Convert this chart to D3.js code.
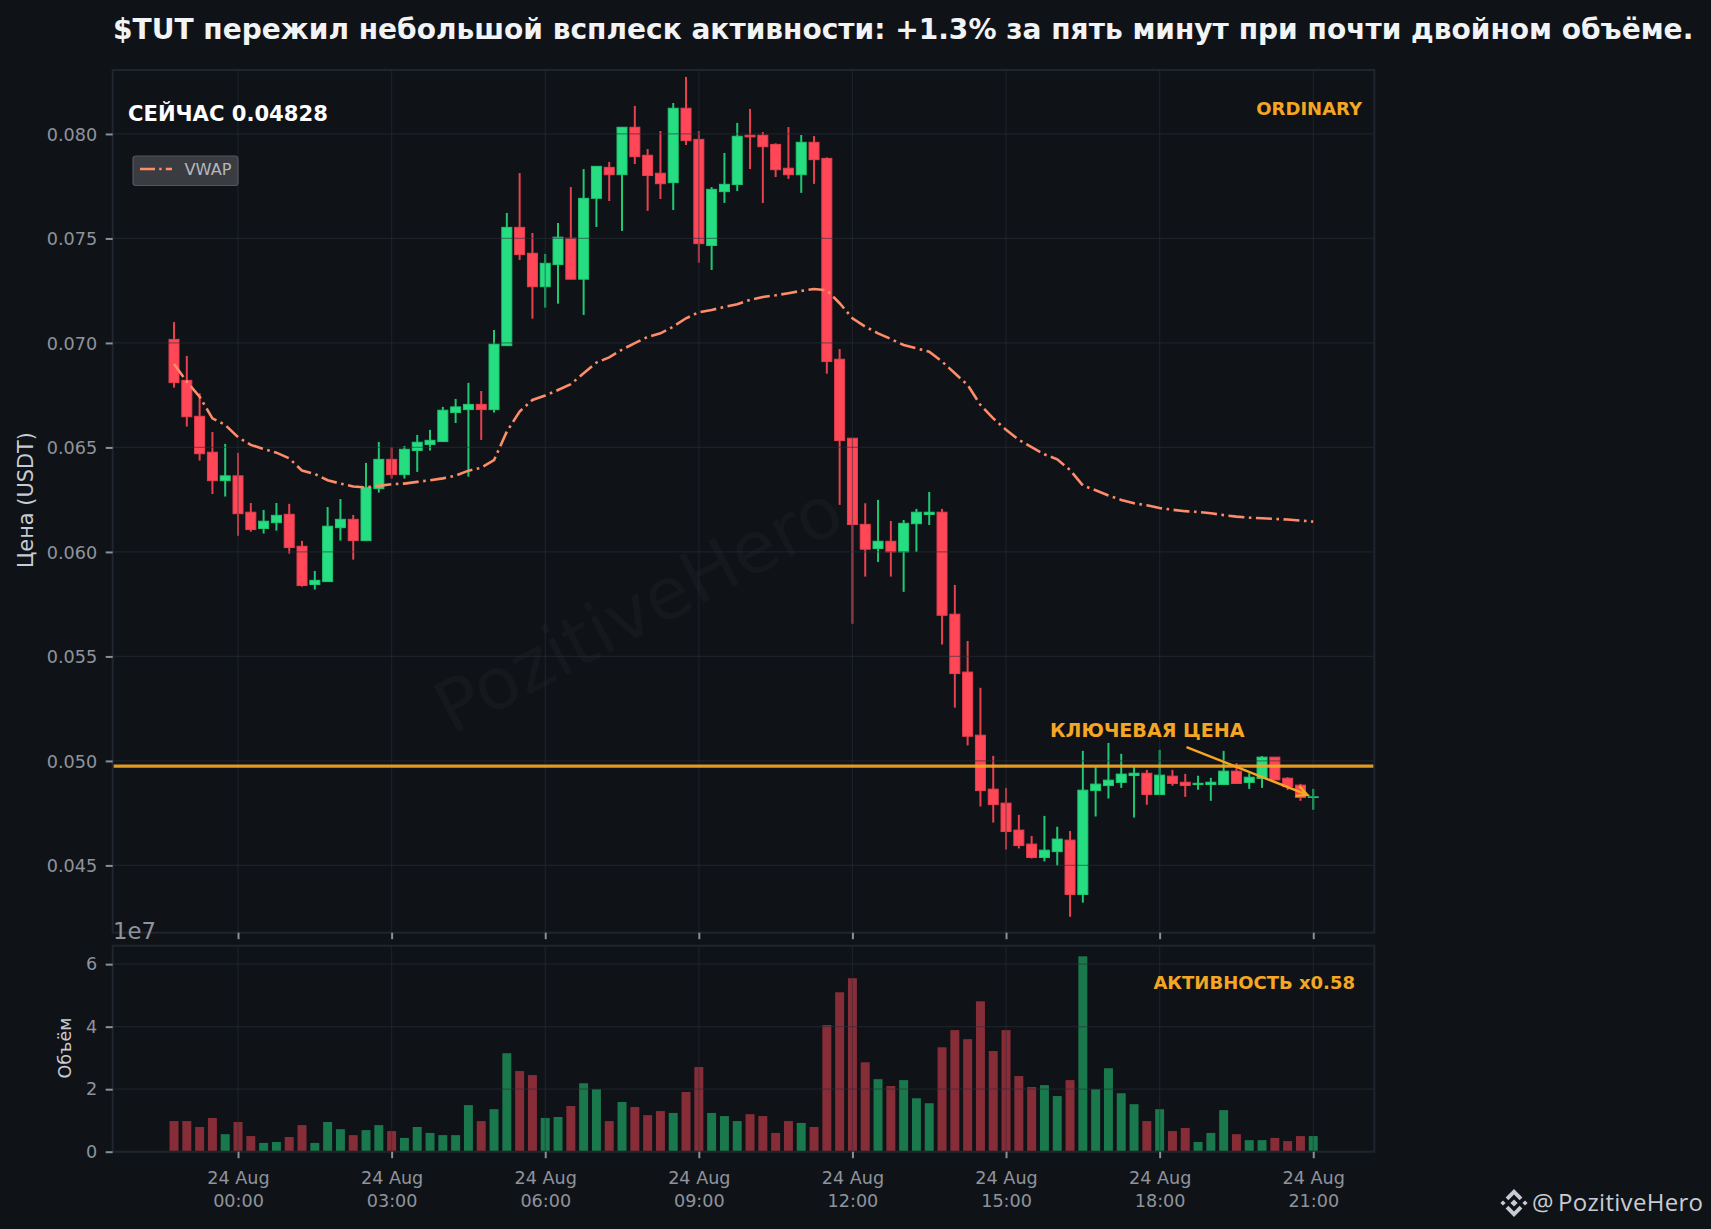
<!DOCTYPE html>
<html lang="ru">
<head>
  <meta charset="UTF-8">
  <title>$TUT</title>
  <script src="https://d3js.org/d3.v7.min.js"></script>
  <style>
    html, body { margin: 0; padding: 0; background: #0f1318; }
    svg { display: block; font-family: "DejaVu Sans", sans-serif; }
    .axis text { fill: #8f939c; font-size: 17.6px; }
    .axis line { stroke: #8a8f98; stroke-width: 2; }
    .grid line { stroke: #2a2e39; stroke-opacity: 0.5; stroke-width: 1.2; }
    .frame { fill: none; stroke: #1f252e; stroke-width: 2; }
  </style>
</head>
<body>
<svg width="1711" height="1229"></svg>
<script>
// 15 minute candles, 22:45 to 21:00
const opens = [.07017,.06821,.06649,.06477,.06341,.06364,.06190,.06112,.06140,.06180,.06027,.05844,.05858,.06116,.06156,.06054,.06303,.06443,.06370,.06485,.06514,.06528,.06667,.06681,.06706,.06681,.06987,.07553,.07429,.07269,.07375,.07501,.07305,.07692,.07840,.07805,.08032,.07898,.07812,.07767,.08123,.07974,.07466,.07724,.07758,.07994,.07994,.07950,.07836,.07805,.07960,.07883,.06922,.06544,.06132,.06016,.06051,.06000,.06135,.06179,.06190,.05702,.05425,.05123,.04865,.04798,.04669,.04602,.04538,.04566,.04621,.04361,.04858,.04882,.04897,.04930,.04941,.04839,.04927,.04898,.04887,.04887,.04887,.04951,.04897,.04916,.05018,.04917,.04884,.04825];
const highs = [.07100,.06938,.06759,.06574,.06517,.06474,.06234,.06201,.06234,.06230,.06053,.05909,.06215,.06253,.06177,.06426,.06526,.06502,.06507,.06560,.06584,.06694,.06732,.06809,.06770,.07062,.07622,.07813,.07526,.07426,.07574,.07746,.07832,.07845,.07866,.08032,.08134,.07928,.08014,.08148,.08273,.08014,.07746,.07909,.08053,.08120,.08009,.07955,.08033,.07995,.07990,.07888,.06971,.06544,.06233,.06249,.06148,.06153,.06206,.06287,.06206,.05842,.05574,.05350,.05024,.04871,.04742,.04641,.04737,.04685,.04665,.05048,.04970,.05086,.05034,.04970,.04957,.05053,.04957,.04938,.04929,.04919,.05048,.04989,.04941,.05023,.05018,.04922,.04890,.04866];
const lows = [.06786,.06600,.06437,.06277,.06265,.06077,.06097,.06088,.06102,.05992,.05834,.05820,.05858,.06054,.05963,.06054,.06284,.06351,.06351,.06383,.06485,.06528,.06617,.06360,.06536,.06667,.06987,.07397,.07116,.07169,.07188,.07305,.07134,.07555,.07679,.07536,.07856,.07632,.07689,.07636,.07947,.07384,.07349,.07670,.07727,.07832,.07670,.07794,.07785,.07718,.07761,.06853,.06225,.05656,.05882,.05952,.05882,.05809,.06000,.06129,.05557,.05255,.05074,.04782,.04705,.04576,.04581,.04533,.04519,.04499,.04254,.04322,.04734,.04820,.04871,.04729,.04790,.04839,.04881,.04828,.04862,.04809,.04887,.04892,.04866,.04871,.04909,.04861,.04809,.04766];
const closes = [.06810,.06647,.06470,.06341,.06364,.06183,.06107,.06147,.06175,.06021,.05839,.05864,.06123,.06156,.06054,.06309,.06443,.06370,.06491,.06525,.06534,.06678,.06694,.06706,.06681,.06994,.07553,.07423,.07269,.07381,.07506,.07305,.07692,.07845,.07805,.08032,.07891,.07801,.07762,.08123,.07968,.07475,.07735,.07759,.07989,.07986,.07939,.07829,.07805,.07960,.07877,.06911,.06533,.06131,.06013,.06051,.06000,.06137,.06190,.06190,.05697,.05418,.05118,.04858,.04791,.04662,.04595,.04538,.04573,.04626,.04361,.04860,.04889,.04908,.04937,.04941,.04839,.04932,.04892,.04882,.04893,.04898,.04951,.04892,.04922,.05018,.04909,.04877,.04825,.04828];
const vwap = [.06899,.06815,.06743,.06639,.06608,.06549,.06512,.06493,.06475,.06448,.06389,.06373,.06343,.06327,.06313,.06309,.06316,.06324,.06327,.06335,.06343,.06352,.06365,.06389,.06403,.06439,.06576,.06672,.06727,.06748,.06775,.06803,.06855,.06906,.06931,.06968,.06999,.07029,.07046,.07078,.07118,.07147,.07158,.07172,.07185,.07206,.07220,.07228,.07238,.07249,.07258,.07252,.07190,.07118,.07078,.07046,.07019,.06990,.06974,.06958,.06911,.06855,.06799,.06703,.06639,.06584,.06536,.06501,.06467,.06443,.06392,.06318,.06295,.06270,.06249,.06233,.06223,.06210,.06202,.06195,.06191,.06185,.06176,.06169,.06164,.06161,.06158,.06155,.06150,.06145];
// volume in units of 1e7
const volumes = [.98,.98,.79,1.08,.56,.95,.50,.28,.31,.47,.85,.28,.95,.72,.53,.69,.85,.66,.44,.79,.60,.53,.53,1.49,.98,1.36,3.15,2.58,2.45,1.08,1.11,1.46,2.19,2.0,.98,1.59,1.43,1.17,1.30,1.24,1.91,2.71,1.24,1.14,.98,1.20,1.14,.60,.98,.92,.79,4.05,5.10,5.55,2.86,2.32,2.10,2.29,1.71,1.55,3.34,3.89,3.60,4.81,3.22,3.89,2.42,2.07,2.13,1.78,2.29,6.25,2.0,2.67,1.87,1.52,.98,1.36,.66,.76,.31,.60,1.33,.56,.37,.37,.44,.34,.50,.50];

const priceTicks = [0.045, 0.050, 0.055, 0.060, 0.065, 0.070, 0.075, 0.080];
const volumeTicks = [0, 2, 4, 6];
const timeTickIndex = [5, 17, 29, 41, 53, 65, 77, 89];
const timeTickLabels = ["00:00", "03:00", "06:00", "09:00", "12:00", "15:00", "18:00", "21:00"];
const keyPrice = 0.04975;
const arrowFrom = [79.1, 0.05066];
const arrowTo = [88.55, 0.04837];

const RED = "#ff4757", GREEN = "#26de81", ORANGE = "#f5a623";

const svg = d3.select("svg");
const left = 112.7, right = 1374.3;

const x = d3.scaleLinear().domain([-4.79, 93.77]).range([left, right]);
const y = d3.scaleLinear().domain([0.04178, 0.08306]).range([932.7, 70]);
const yVol = d3.scaleLinear().domain([0, 6.59]).range([1151.7, 945.7]);

const up = i => closes[i] >= opens[i];
const index = d3.range(opens.length);

// watermark
svg.append("text")
  .attr("transform", "translate(650,631) rotate(-27.8)")
  .attr("text-anchor", "middle")
  .attr("font-size", 72)
  .attr("fill", "#fff")
  .attr("fill-opacity", 0.028)
  .text("PozitiveHero");

// candles
const candles = svg.append("g");
candles.selectAll("line")
  .data(index)
  .enter().append("line")
  .attr("x1", d => x(d)).attr("x2", d => x(d))
  .attr("y1", d => y(highs[d])).attr("y2", d => y(lows[d]))
  .attr("stroke", d => up(d) ? "#20c873" : "#e8404f")
  .attr("stroke-width", 2);
const bodyW = x(0.78) - x(0);
candles.selectAll("rect")
  .data(index)
  .enter().append("rect")
  .attr("x", d => x(d) - bodyW / 2)
  .attr("width", bodyW)
  .attr("y", d => y(Math.max(opens[d], closes[d])))
  .attr("height", d => Math.abs(y(opens[d]) - y(closes[d])))
  .attr("fill", d => up(d) ? GREEN : RED)
  .attr("stroke", d => up(d) ? "#20c873" : "#e8404f")
  .attr("stroke-width", 1);

// volume
const volW = x(0.7) - x(0);
svg.append("g").selectAll("rect")
  .data(index)
  .enter().append("rect")
  .attr("x", d => x(d) - volW / 2)
  .attr("width", volW)
  .attr("y", d => yVol(volumes[d]))
  .attr("height", d => yVol(0) - yVol(volumes[d]))
  .attr("fill", d => up(d) ? GREEN : RED)
  .attr("fill-opacity", 0.5);

// grid goes over the marks
const grid = svg.append("g").attr("class", "grid");
priceTicks.forEach(t => grid.append("line").attr("x1", left).attr("x2", right).attr("y1", y(t)).attr("y2", y(t)));
volumeTicks.forEach(t => grid.append("line").attr("x1", left).attr("x2", right).attr("y1", yVol(t)).attr("y2", yVol(t)));
timeTickIndex.forEach(t => {
  grid.append("line").attr("x1", x(t)).attr("x2", x(t)).attr("y1", y.range()[1]).attr("y2", y.range()[0]);
  grid.append("line").attr("x1", x(t)).attr("x2", x(t)).attr("y1", yVol.range()[1]).attr("y2", yVol.range()[0]);
});

// vwap
svg.append("path")
  .attr("d", d3.line().x((d, i) => x(i)).y(d => y(d))(vwap))
  .attr("fill", "none")
  .attr("stroke", "#ff8c69")
  .attr("stroke-width", 2.6)
  .attr("stroke-dasharray", "16 4.5 2.6 4.5");

// key level
svg.append("line")
  .attr("x1", left).attr("x2", right)
  .attr("y1", y(keyPrice)).attr("y2", y(keyPrice))
  .attr("stroke", ORANGE).attr("stroke-width", 3.2).attr("stroke-opacity", 0.92);

// arrow to the last price
const ax0 = x(arrowFrom[0]), ay0 = y(arrowFrom[1]), ax1 = x(arrowTo[0]), ay1 = y(arrowTo[1]);
const ang = Math.atan2(ay1 - ay0, ax1 - ax0);
const head = s => [ax1 - 12 * Math.cos(ang + s), ay1 - 12 * Math.sin(ang + s)];
svg.append("path")
  .attr("d", d3.line()([[ax0, ay0], [ax1, ay1]]) + d3.line()([head(0.45), [ax1, ay1], head(-0.45)]))
  .attr("fill", "none").attr("stroke", ORANGE).attr("stroke-width", 2.4);

// frames
svg.append("rect").attr("class", "frame").attr("x", left).attr("y", 70).attr("width", right - left).attr("height", 932.7 - 70);
svg.append("rect").attr("class", "frame").attr("x", left).attr("y", 945.7).attr("width", right - left).attr("height", 1151.7 - 945.7);

// axes
function cleanAxis(g) { g.select(".domain").remove(); g.attr("font-family", null).attr("font-size", null); }

svg.append("g").attr("class", "axis").attr("transform", `translate(${left},0)`)
  .call(d3.axisLeft(y).tickValues(priceTicks).tickFormat(d3.format(".3f")).tickSize(7).tickPadding(8.5))
  .call(cleanAxis)
  .selectAll(".tick text").attr("dy", "0.35em");
svg.append("g").attr("class", "axis").attr("transform", `translate(${left},0)`)
  .call(d3.axisLeft(yVol).tickValues(volumeTicks).tickFormat(d3.format("d")).tickSize(7).tickPadding(8.5))
  .call(cleanAxis);
svg.append("g").attr("class", "axis").attr("transform", "translate(0,932.7)")
  .call(d3.axisBottom(x).tickValues(timeTickIndex).tickFormat("").tickSize(6.5))
  .call(cleanAxis);
const xAxis = svg.append("g").attr("class", "axis").attr("transform", "translate(0,1151.7)")
  .call(d3.axisBottom(x).tickValues(timeTickIndex).tickFormat("").tickSize(6.5))
  .call(cleanAxis);
xAxis.selectAll(".tick text").each(function (d, i) {
  const t = d3.select(this).attr("y", null).attr("dy", null).attr("text-anchor", "middle");
  t.append("tspan").attr("x", 0).attr("y", 32.5).text("24 Aug");
  t.append("tspan").attr("x", 0).attr("y", 55).text(timeTickLabels[i]);
});

// labels
function label(txt, px, py, size, fill, opts = {}) {
  return svg.append("text").attr("x", px).attr("y", py)
    .attr("font-size", size).attr("fill", fill)
    .attr("font-weight", opts.bold ? "bold" : null)
    .attr("text-anchor", opts.anchor || "start")
    .attr("transform", opts.rotate ? `rotate(-90,${px},${py})` : null)
    .text(txt);
}
label("$TUT пережил небольшой всплеск активности: +1.3% за пять минут при почти двойном объёме.", 113, 38.5, 28.05, "#f2f3f5", { bold: true });
label("СЕЙЧАС 0.04828", 128, 120.5, 21.1, "#fff", { bold: true });
label("ORDINARY", 1362, 114.5, 18, ORANGE, { bold: true, anchor: "end" });
label("КЛЮЧЕВАЯ ЦЕНА", 1050, 737, 19.1, ORANGE, { bold: true });
label("АКТИВНОСТЬ x0.58", 1355, 988.5, 18, ORANGE, { bold: true, anchor: "end" });
label("Цена (USDT)", 33, 500, 20.9, "#c8ccd2", { rotate: true, anchor: "middle" });
label("Объём", 71, 1048, 17.5, "#c8ccd2", { rotate: true, anchor: "middle" });
label("1e7", 113, 939, 22.8, "#8f939c");

// legend
svg.append("rect").attr("x", 133).attr("y", 156).attr("width", 105).attr("height", 29.5).attr("rx", 3)
  .attr("fill", "#3a3c42").attr("stroke", "#54575d").attr("stroke-width", 1.2);
svg.append("line").attr("x1", 140).attr("x2", 172).attr("y1", 169).attr("y2", 169)
  .attr("stroke", "#ff8c69").attr("stroke-width", 2.4).attr("stroke-dasharray", "15 4.2 2.4 4.2");
label("VWAP", 184.5, 174.5, 16.2, "#b5b8bd");

// binance mark + handle
const logo = svg.append("g").attr("transform", "translate(1514,1203)").attr("fill", "#c8ccd2");
[
  [[0, -3.6], [3.6, 0], [0, 3.6], [-3.6, 0]],
  [[-11, -2.6], [-8.4, 0], [-11, 2.6], [-13.6, 0]],
  [[11, -2.6], [13.6, 0], [11, 2.6], [8.4, 0]],
  [[0, -14], [8.4, -5.6], [5.6, -2.8], [0, -8.4], [-5.6, -2.8], [-8.4, -5.6]],
  [[0, 14], [8.4, 5.6], [5.6, 2.8], [0, 8.4], [-5.6, 2.8], [-8.4, 5.6]]
].forEach(p => logo.append("polygon").attr("points", p.join(" ")));
svg.append("text").attr("x", 1532).attr("y", 1211).attr("font-family", "'Open Sans'").attr("font-size", 24)
  .attr("fill", "#c8ccd2").text("@");
svg.append("text").attr("x", 1558).attr("y", 1211).attr("font-family", "'Open Sans'").attr("font-size", 24)
  .attr("letter-spacing", 0.3).attr("fill", "#c8ccd2").text("PozitiveHero");
</script>
</body>
</html>
